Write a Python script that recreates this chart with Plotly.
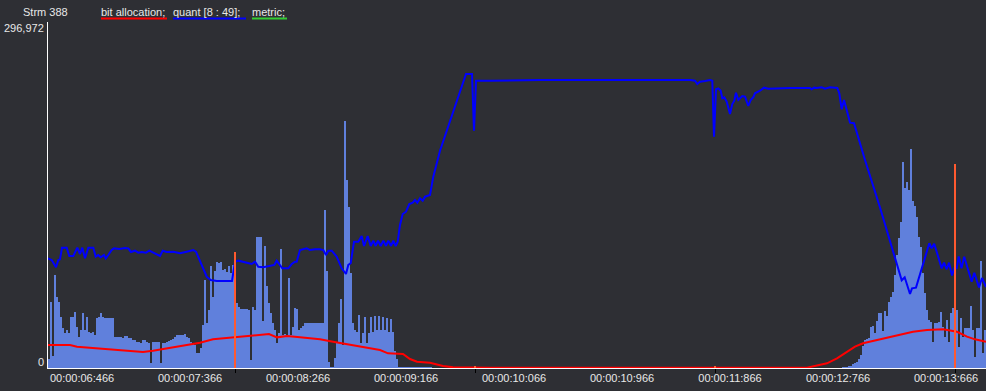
import plotly.graph_objects as go

# ---------------- data ----------------
# frame sizes (bits), one value per frame (60 fps), first segment starts at frame 0
seg1_start = 0
seg1_bits = [
    7700, 56600, 10300, 79800, 60900, 56600, 43800, 34300, 30000, 32600,
    30000, 43800, 43800, 48000, 35200, 26600, 32600, 47200, 32600, 43800,
    30900, 30000, 30900, 28300, 42900, 43800, 47200, 43800, 42900, 42900,
    42900, 42900, 42900, 26600, 26600, 26600, 26600, 25700, 27500, 27500,
    25700, 25700, 24000, 24000, 22300, 22300, 21500, 24000, 24000, 22300,
    21500, 4300, 22300, 22300, 22300, 22300, 4300, 21500, 21500, 22300,
    23200, 24000, 24900, 26600, 28300, 28300, 28300, 28300, 29200, 26600,
    25700, 22300, 21500, 19700, 12900, 12900, 17200, 36900, 75500, 38600,
    49800, 87500, 60900, 83300, 91000, 90100, 91000, 84100, 85000, 82400,
    87500, 81500, 88400, 56600, 55800, 52400, 50600, 50600, 50600, 50600,
    49800, 6900, 52400, 49800, 112400, 112400, 112400, 40300, 104700, 70400,
    55800, 47200, 38600, 32600, 21500, 30000, 102100, 28300, 29200, 28300,
    77200, 28300, 35200, 51500, 50600, 32600, 34300, 36000, 38600, 38600,
    38600, 38600, 38600, 38600, 38600, 38600, 38600, 38600, 135600, 83300,
    5100, 860, 860, 8600, 21500, 38600, 59200, 19700, 212000, 161400,
    138200, 81500, 38600, 32600, 30900, 45500, 21500, 30000, 43800, 21500,
    30000, 43800, 30900, 44600, 32600, 44600, 32600, 43800, 32600, 42900,
    30900, 42000, 30900, 14600, 7700, 860, 860, 860, 860, 860,
    860, 860, 860, 860, 860, 860, 860, 860, 860, 860,
    860, 860,
]
seg2_start = 397
seg2_bits = [
    860, 860, 860, 1300, 2100, 3400, 4300, 5100, 7700, 11200,
    18900, 24000, 24900, 25700, 35200, 36000, 30000, 40300, 47200, 47200,
    31800, 48900, 44600, 56600, 60900, 65200, 79800, 97000, 111600, 125300,
    176800, 154500, 159600, 152800, 188000, 143300, 139000, 129600, 112400, 103900,
    81500, 64400, 49800, 41200, 39500, 22300, 38600, 38600, 39500, 48000,
    35200, 26600, 41200, 22300, 47200, 51500, 49800, 49800, 18000, 42900,
    26600, 34300, 34300, 34300, 53200, 32600, 9400, 34300, 34300, 91800,
    12900, 32600,
]

# bit allocation (bits) – vertices (frame, value)
alloc_frames = [-0.5, 10.5, 14, 24, 34, 47, 52, 62, 75.5, 82, 92, 102, 107, 110,
                114, 119, 125.5, 135.5, 142, 149, 159, 165.5, 169.5, 177, 180.5,
                184, 190.5, 197, 202, 220.5, 379, 382, 389, 394, 399, 403, 407,
                414, 420.5, 425.5, 432, 439, 447, 454, 459, 463, 468.5]
alloc_bits = [19700, 19700, 18300, 16900, 15400, 13700, 14800, 17800, 21700, 24600,
              26300, 27500, 28300, 29200, 26300, 27500, 26300, 24600, 22600, 20600,
              17800, 15400, 12600, 12000, 7700, 5400, 4500, 1700, 600, 300, 300,
              1300, 4000, 8300, 14000, 18300, 21200, 24000, 26300, 28700, 31100,
              32600, 33200, 31100, 26900, 24600, 22600]

# quant [8 : 49] – vertices (frame, value)
quant_frames = [
    -0.5, 1.35, 3.5, 4.65, 5.5, 6.5, 8.85, 10.15, 12.15, 14.15, 15.5, 16.65, 18,
    19.65, 22.15, 23.35, 24.65, 25.85, 27.5, 28.35, 29.65, 31.35, 32.5, 35.15, 38,
    39.65, 41, 43, 44.65, 46.35, 48.5, 50.15, 52.15, 55.5, 56.85, 58.85, 62.15,
    65.5, 68.85, 72.15, 73.5, 75.5, 78.85, 80.85, 83.85, 91.5, 93, 94.65, 97.15,
    99.65, 101.35, 103, 104.65, 107.15, 110.5, 112.65, 113.85, 115.15, 116.65,
    119.65, 121.35, 123, 123.85, 125.5, 128, 128.85, 130.5, 133, 135.5, 137.15,
    138.5, 139.65, 141.35, 143.85, 146.35, 148.5, 149.65, 150.85, 152.5, 154.65,
    156.35, 157.5, 159.35, 160.85, 162.15, 163.35, 164.5, 165.85, 167.15, 168.5,
    169.65, 171, 172.15, 173.35, 174.35, 175.5, 176.85, 178.5, 180.15, 181.85,
    183, 184.15, 185.5, 186.85, 188, 190.5, 192.15, 193.85, 195.5, 208.5, 211.5,
    212.5, 213.5, 220.5, 245.5, 320.5, 323, 324.15, 325.5, 328, 330.5, 331.65,
    332.5, 333.5, 334.65, 335.85, 336.65, 337.65, 338.85, 340.5, 341.65, 342.65,
    343.5, 344.65, 346.65, 348, 349.65, 350.85, 352.15, 353, 355.5, 357.5, 359.65,
    370.5, 380.5, 381.35, 382.5, 383.85, 386.35, 388, 389.15, 390.5, 394.15,
    395.15, 396.35, 397.5, 398.85, 400.5, 402.5, 403.85, 408, 415.5, 423, 426.35,
    427.85, 430.5, 431.5, 433.5, 440.15, 441.35, 442.6, 446.35, 447.5, 448.85,
    450, 451.5, 452.65, 453.85, 454.85, 456.25, 457.6, 461.35, 462.65, 465,
    466.5, 468.5,
]
quant_vals = [
    21.0, 20.8, 19.93, 20.8, 20.88, 22.26, 22.26, 21.27, 21.27, 22.26, 21.51, 22.26, 21.0,
    22.26, 22.26, 21.19, 21.39, 21.12, 21.39, 21.0, 21.39, 21.98, 22.18, 22.10, 22.22,
    22.18, 21.75, 21.90, 21.66, 21.75, 21.66, 21.90, 21.66, 21.27, 21.90, 21.75, 21.78,
    21.59, 21.78, 21.98, 21.78, 20.60, 18.82, 18.43, 18.31, 18.31, 20.60, 20.72, 20.60,
    20.48, 20.32, 20.60, 20.0, 19.93, 20.09, 20.21, 20.72, 20.32, 19.81,
    19.81, 20.32, 20.60, 20.60, 21.98, 22.07, 22.18, 21.98, 22.07, 22.07, 21.98,
    21.39, 21.90, 21.90, 21.19, 19.81, 19.14, 20.21, 20.41, 22.97, 22.97,
    23.64, 22.46, 23.64, 22.46, 23.09, 22.46, 23.09, 22.46, 23.09, 22.46,
    23.09, 22.46, 23.09, 22.46, 22.97, 24.95, 26.25, 26.52, 27.43, 27.59,
    27.91, 27.59, 28.11, 27.83, 28.30, 28.50, 30.67, 32.26, 33.75, 42.84, 42.84,
    36.12, 42.05, 42.05, 42.13, 42.13, 42.05, 41.65, 41.93, 42.0, 42.13, 42.05,
    35.41, 41.03, 41.14, 40.86, 39.96, 40.08, 39.56, 38.10, 39.28, 39.68,
    40.62, 39.76, 40.23, 40.15, 39.05, 39.76, 40.08, 40.55, 40.86, 41.22, 41.10,
    41.18, 41.18, 41.03, 41.22, 41.18, 41.26, 41.10, 41.18, 41.26, 41.18,
    40.55, 38.66, 39.76, 38.57, 37.07, 37.00, 36.00, 32.65, 27.02, 20.92, 18.39,
    18.75, 16.77, 17.44, 17.52, 22.78, 22.18, 22.73, 19.81, 20.48, 19.70,
    20.48, 18.96, 19.81, 19.81, 21.21, 19.81, 21.19, 18.23, 19.29, 17.56,
    18.67, 17.6,
]

# key-frame markers (frame, bits)
key_frames = [93, 213, 333, 453]
key_bits = [99800, 1700, 1700, 175100]

# time axis
tick_frames = [0, 54, 108, 162, 216, 270, 324, 378, 432]
tick_labels = ["00:00:06:466", "00:00:07:366", "00:00:08:266", "00:00:09:166",
               "00:00:10:066", "00:00:10:966", "00:00:11:866", "00:00:12:766",
               "00:00:13:666"]
mark_frames = [93, 213, 333, 453]

y_max = 296972
quant_range = [8, 49]
total_frames = 469

# ---------------- figure ----------------
BG = "#2e2f34"
TXT = "#e8e8e8"
FONT = "Liberation Sans"

fig = go.Figure()

seg1_x = [seg1_start + i for i in range(len(seg1_bits))]
seg2_x = [seg2_start + i for i in range(len(seg2_bits))]

fig.add_trace(go.Bar(x=seg1_x + seg2_x, y=seg1_bits + seg2_bits, width=1,
                     marker=dict(color="#6080dc", line=dict(width=0)),
                     yaxis="y", hoverinfo="skip"))
fig.add_trace(go.Scatter(x=alloc_frames, y=alloc_bits, mode="lines",
                         line=dict(color="#ff0000", width=2), yaxis="y"))
fig.add_trace(go.Scatter(x=quant_frames, y=quant_vals, mode="lines",
                         line=dict(color="#0000ff", width=2), yaxis="y2"))
fig.add_trace(go.Bar(x=key_frames, y=key_bits, width=1,
                     marker=dict(color="#ff5a30", line=dict(width=0)),
                     yaxis="y3"))

L, T, B = 48, 22, 23
W, H = 986, 391
pw = W - L
ph = H - T - B


def px(xp):
    return (xp - L) / pw


def py(yp):
    return (H - B - yp) / ph


annotations = [
    dict(text="Strm 388", x=px(22), y=py(12), xanchor="left", yanchor="middle"),
    dict(text="bit allocation;", x=px(100), y=py(12), xanchor="left", yanchor="middle"),
    dict(text="quant [8 : 49];", x=px(172), y=py(12), xanchor="left", yanchor="middle"),
    dict(text="metric;", x=px(251), y=py(12), xanchor="left", yanchor="middle"),
    dict(text=f"{y_max:,}", x=px(45), y=py(28), xanchor="right", yanchor="middle"),
    dict(text="0", x=px(45), y=py(362), xanchor="right", yanchor="middle"),
]
for a in annotations:
    a.update(xref="paper", yref="paper", showarrow=False,
             font=dict(family=FONT, size=11, color=TXT), borderpad=0)

shapes = []
for x0, x1, c in [(101, 167, "#ff0000"), (173, 246, "#0000ff"), (252, 287, "#33cc33")]:
    shapes.append(dict(type="line", xref="paper", yref="paper",
                       x0=px(x0), x1=px(x1), y0=py(18.5), y1=py(18.5),
                       line=dict(color=c, width=2)))

fig.update_layout(
    width=W, height=H,
    margin=dict(l=L, r=0, t=T, b=B, pad=0),
    paper_bgcolor=BG, plot_bgcolor=BG,
    showlegend=False, barmode="overlay", bargap=0,
    annotations=annotations, shapes=shapes,
    xaxis=dict(range=[-0.5, total_frames - 0.5], showgrid=False, zeroline=False,
               showline=True, linecolor="#ffffff", linewidth=1,
               tickmode="array", tickvals=tick_frames, ticktext=tick_labels,
               ticks="", ticklabelshift=33,
               tickfont=dict(family=FONT, size=11, color=TXT),
               minor=dict(tickmode="array", tickvals=mark_frames, ticks="outside",
                          ticklen=4, tickwidth=1, tickcolor="#000000", showgrid=False)),
    yaxis=dict(range=[0, y_max], showgrid=False, zeroline=False,
               showticklabels=False, showline=True, linecolor="#ffffff",
               linewidth=1, ticks=""),
    yaxis2=dict(range=quant_range, overlaying="y", visible=False),
    yaxis3=dict(range=[0, y_max], overlaying="y", visible=False),
)

fig.write_html("out.html")
